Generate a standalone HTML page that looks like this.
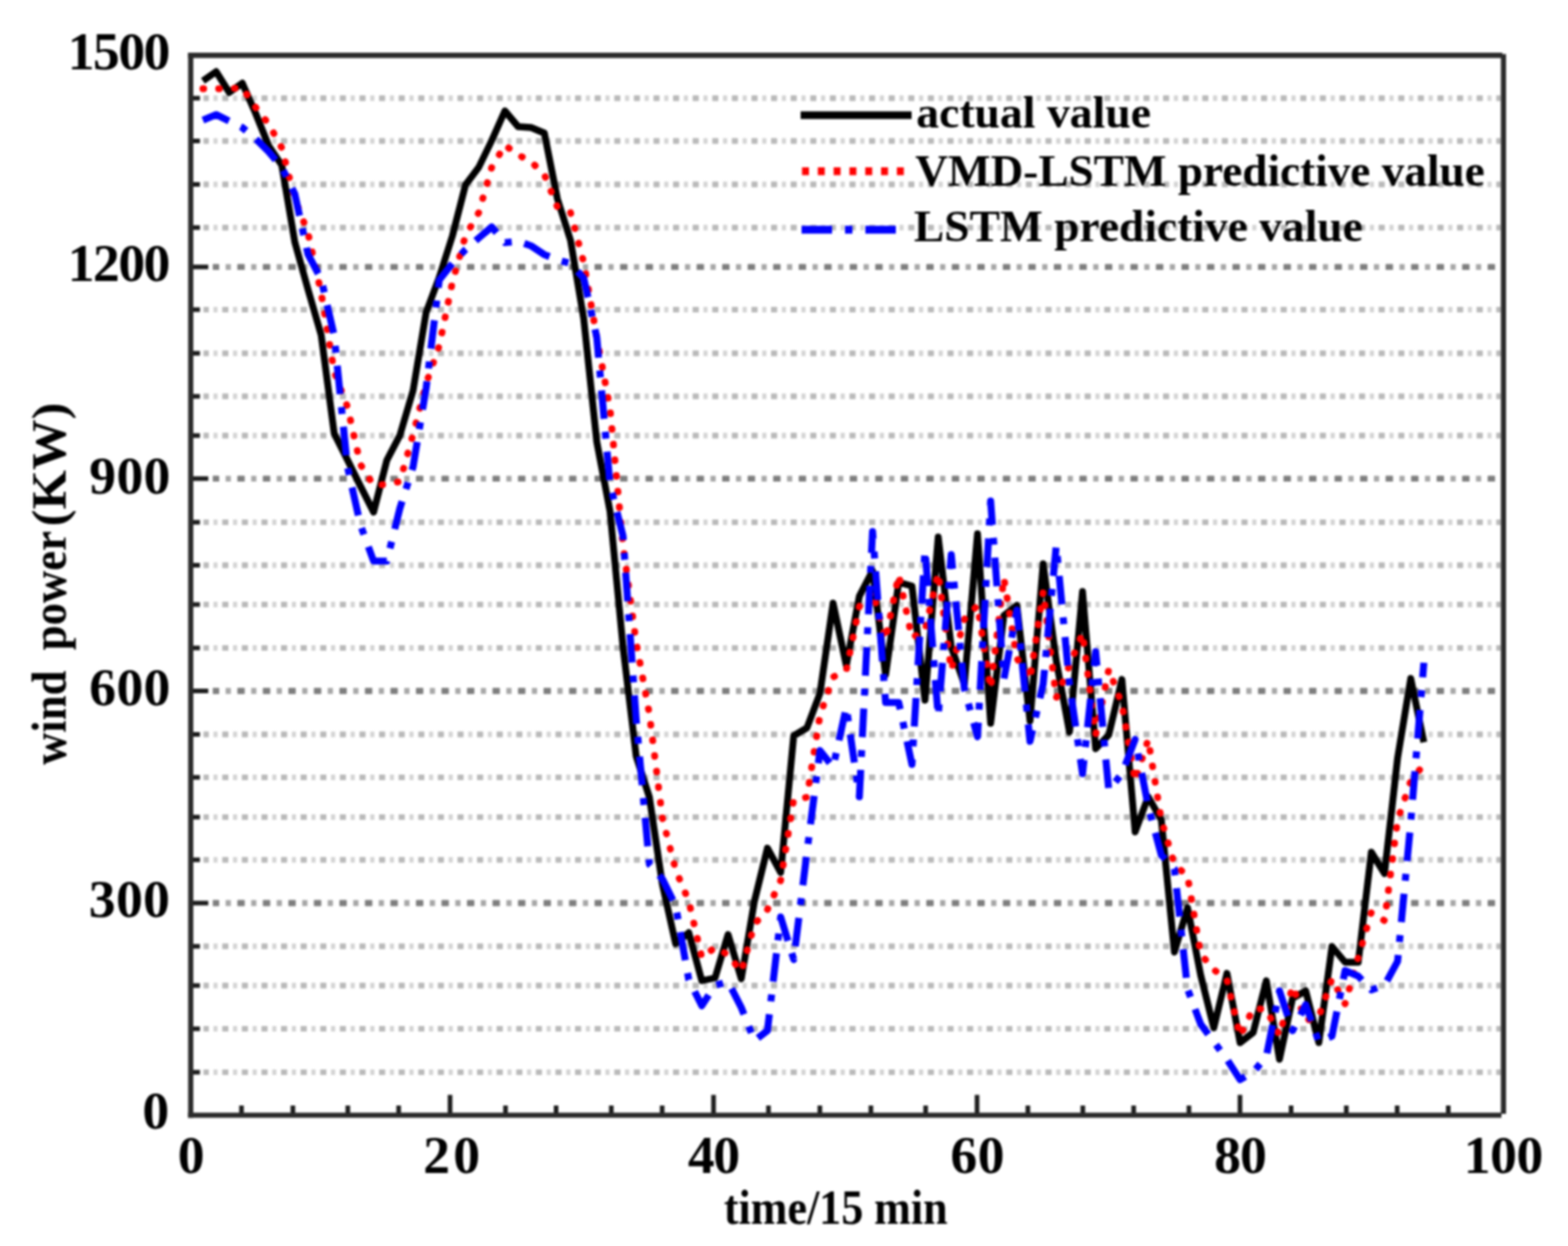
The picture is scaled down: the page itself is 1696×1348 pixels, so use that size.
<!DOCTYPE html>
<html lang="en"><head><meta charset="utf-8"><title>wind power prediction</title>
<style>
html,body{margin:0;padding:0;background:#fff;}
body{width:1696px;height:1348px;overflow:hidden;}
svg{display:block;filter:blur(1.2px);}
text{font-family:"Liberation Serif","DejaVu Serif",serif;font-weight:bold;fill:#000;}
</style></head><body>
<svg width="1696" height="1348" viewBox="0 0 1696 1348">
<rect x="0" y="0" width="1696" height="1348" fill="#ffffff"/>
<g fill="none" stroke-width="6">
<g stroke="#d3d3d3" stroke-dasharray="4.4 6.2">
<line x1="220.3" y1="1160.0" x2="1623.0" y2="1160.0"/>
<line x1="220.3" y1="1113.0" x2="1623.0" y2="1113.0"/>
<line x1="220.3" y1="1066.2" x2="1623.0" y2="1066.2"/>
<line x1="220.3" y1="1023.8" x2="1623.0" y2="1023.8"/>
<line x1="220.3" y1="930.2" x2="1623.0" y2="930.2"/>
<line x1="220.3" y1="884.0" x2="1623.0" y2="884.0"/>
<line x1="220.3" y1="841.0" x2="1623.0" y2="841.0"/>
<line x1="220.3" y1="794.5" x2="1623.0" y2="794.5"/>
<line x1="220.3" y1="701.0" x2="1623.0" y2="701.0"/>
<line x1="220.3" y1="654.0" x2="1623.0" y2="654.0"/>
<line x1="220.3" y1="611.5" x2="1623.0" y2="611.5"/>
<line x1="220.3" y1="565.0" x2="1623.0" y2="565.0"/>
<line x1="220.3" y1="471.2" x2="1623.0" y2="471.2"/>
<line x1="220.3" y1="428.8" x2="1623.0" y2="428.8"/>
<line x1="220.3" y1="382.2" x2="1623.0" y2="382.2"/>
<line x1="220.3" y1="335.0" x2="1623.0" y2="335.0"/>
<line x1="220.3" y1="246.2" x2="1623.0" y2="246.2"/>
<line x1="220.3" y1="199.5" x2="1623.0" y2="199.5"/>
<line x1="220.3" y1="152.5" x2="1623.0" y2="152.5"/>
<line x1="220.3" y1="106.2" x2="1623.0" y2="106.2"/>
</g>
<g stroke="#b9b9b9" stroke-dasharray="6.6 14.6" stroke-dashoffset="1.1">
<line x1="220.3" y1="1160.0" x2="1623.0" y2="1160.0"/>
<line x1="220.3" y1="1113.0" x2="1623.0" y2="1113.0"/>
<line x1="220.3" y1="1066.2" x2="1623.0" y2="1066.2"/>
<line x1="220.3" y1="1023.8" x2="1623.0" y2="1023.8"/>
<line x1="220.3" y1="930.2" x2="1623.0" y2="930.2"/>
<line x1="220.3" y1="884.0" x2="1623.0" y2="884.0"/>
<line x1="220.3" y1="841.0" x2="1623.0" y2="841.0"/>
<line x1="220.3" y1="794.5" x2="1623.0" y2="794.5"/>
<line x1="220.3" y1="701.0" x2="1623.0" y2="701.0"/>
<line x1="220.3" y1="654.0" x2="1623.0" y2="654.0"/>
<line x1="220.3" y1="611.5" x2="1623.0" y2="611.5"/>
<line x1="220.3" y1="565.0" x2="1623.0" y2="565.0"/>
<line x1="220.3" y1="471.2" x2="1623.0" y2="471.2"/>
<line x1="220.3" y1="428.8" x2="1623.0" y2="428.8"/>
<line x1="220.3" y1="382.2" x2="1623.0" y2="382.2"/>
<line x1="220.3" y1="335.0" x2="1623.0" y2="335.0"/>
<line x1="220.3" y1="246.2" x2="1623.0" y2="246.2"/>
<line x1="220.3" y1="199.5" x2="1623.0" y2="199.5"/>
<line x1="220.3" y1="152.5" x2="1623.0" y2="152.5"/>
<line x1="220.3" y1="106.2" x2="1623.0" y2="106.2"/>
</g>
</g>
<g fill="none" stroke-width="6.3">
<g stroke="#a6a6a6" stroke-dasharray="5.6 8.2">
<line x1="230.3" y1="977.0" x2="1623.0" y2="977.0"/>
<line x1="230.3" y1="747.5" x2="1623.0" y2="747.5"/>
<line x1="230.3" y1="517.8" x2="1623.0" y2="517.8"/>
<line x1="230.3" y1="288.8" x2="1623.0" y2="288.8"/>
</g>
<g stroke="#7e7e7e" stroke-dasharray="8 19.6" stroke-dashoffset="1.2">
<line x1="230.3" y1="977.0" x2="1623.0" y2="977.0"/>
<line x1="230.3" y1="747.5" x2="1623.0" y2="747.5"/>
<line x1="230.3" y1="517.8" x2="1623.0" y2="517.8"/>
<line x1="230.3" y1="288.8" x2="1623.0" y2="288.8"/>
</g>
</g>
<g fill="none" stroke="#1c1c1c" stroke-width="5">
<line x1="206.3" y1="1160.0" x2="216.3" y2="1160.0"/>
<line x1="206.3" y1="1113.0" x2="216.3" y2="1113.0"/>
<line x1="206.3" y1="1066.2" x2="216.3" y2="1066.2"/>
<line x1="206.3" y1="1023.8" x2="216.3" y2="1023.8"/>
<line x1="206.3" y1="930.2" x2="216.3" y2="930.2"/>
<line x1="206.3" y1="884.0" x2="216.3" y2="884.0"/>
<line x1="206.3" y1="841.0" x2="216.3" y2="841.0"/>
<line x1="206.3" y1="794.5" x2="216.3" y2="794.5"/>
<line x1="206.3" y1="701.0" x2="216.3" y2="701.0"/>
<line x1="206.3" y1="654.0" x2="216.3" y2="654.0"/>
<line x1="206.3" y1="611.5" x2="216.3" y2="611.5"/>
<line x1="206.3" y1="565.0" x2="216.3" y2="565.0"/>
<line x1="206.3" y1="471.2" x2="216.3" y2="471.2"/>
<line x1="206.3" y1="428.8" x2="216.3" y2="428.8"/>
<line x1="206.3" y1="382.2" x2="216.3" y2="382.2"/>
<line x1="206.3" y1="335.0" x2="216.3" y2="335.0"/>
<line x1="206.3" y1="246.2" x2="216.3" y2="246.2"/>
<line x1="206.3" y1="199.5" x2="216.3" y2="199.5"/>
<line x1="206.3" y1="152.5" x2="216.3" y2="152.5"/>
<line x1="206.3" y1="106.2" x2="216.3" y2="106.2"/>
<line x1="206.3" y1="977.0" x2="225.3" y2="977.0"/>
<line x1="206.3" y1="747.5" x2="225.3" y2="747.5"/>
<line x1="206.3" y1="517.8" x2="225.3" y2="517.8"/>
<line x1="206.3" y1="288.8" x2="225.3" y2="288.8"/>
<line x1="261.2" y1="1206.5" x2="261.2" y2="1196.0"/>
<line x1="316.8" y1="1206.5" x2="316.8" y2="1196.0"/>
<line x1="376.2" y1="1206.5" x2="376.2" y2="1196.0"/>
<line x1="431.2" y1="1206.5" x2="431.2" y2="1196.0"/>
<line x1="486.8" y1="1206.5" x2="486.8" y2="1184.5"/>
<line x1="546.8" y1="1206.5" x2="546.8" y2="1196.0"/>
<line x1="601.5" y1="1206.5" x2="601.5" y2="1196.0"/>
<line x1="661.2" y1="1206.5" x2="661.2" y2="1196.0"/>
<line x1="716.2" y1="1206.5" x2="716.2" y2="1196.0"/>
<line x1="771.8" y1="1206.5" x2="771.8" y2="1184.5"/>
<line x1="831.2" y1="1206.5" x2="831.2" y2="1196.0"/>
<line x1="886.8" y1="1206.5" x2="886.8" y2="1196.0"/>
<line x1="942.0" y1="1206.5" x2="942.0" y2="1196.0"/>
<line x1="1001.2" y1="1206.5" x2="1001.2" y2="1196.0"/>
<line x1="1056.8" y1="1206.5" x2="1056.8" y2="1184.5"/>
<line x1="1111.8" y1="1206.5" x2="1111.8" y2="1196.0"/>
<line x1="1171.2" y1="1206.5" x2="1171.2" y2="1196.0"/>
<line x1="1226.2" y1="1206.5" x2="1226.2" y2="1196.0"/>
<line x1="1286.0" y1="1206.5" x2="1286.0" y2="1196.0"/>
<line x1="1341.2" y1="1206.5" x2="1341.2" y2="1184.5"/>
<line x1="1396.5" y1="1206.5" x2="1396.5" y2="1196.0"/>
<line x1="1456.2" y1="1206.5" x2="1456.2" y2="1196.0"/>
<line x1="1511.2" y1="1206.5" x2="1511.2" y2="1196.0"/>
<line x1="1566.5" y1="1206.5" x2="1566.5" y2="1196.0"/>
</g>
<g fill="none" stroke="#2a2a2a" stroke-width="5.6" stroke-linecap="butt">
<line x1="206.3" y1="57.2" x2="206.3" y2="1209.3"/>
<line x1="203.5" y1="59.9" x2="1625" y2="59.9"/>
<line x1="1626.2" y1="58.5" x2="1626.2" y2="1205"/>
<line x1="203.5" y1="1206.5" x2="1624" y2="1206.5"/>
</g>
<g fill="none" stroke-linejoin="round">
<polyline stroke="#000000" stroke-width="7.4" points="219.5,87.5 233.8,77.5 247.9,100.0 262.1,90.0 276.4,122.5 290.5,157.5 304.8,178.8 318.9,262.0 333.1,313.0 347.4,362.5 361.5,469.0 375.8,497.5 389.9,526.0 404.1,554.0 418.4,498.0 432.5,471.0 446.8,422.5 460.9,338.0 475.1,300.0 489.4,255.0 503.5,200.0 517.8,181.0 531.9,152.0 546.1,120.0 560.4,137.0 574.5,138.0 588.8,144.0 602.9,215.0 617.1,260.0 631.4,345.0 645.5,478.0 659.8,553.0 673.9,700.0 688.1,818.0 702.4,862.5 716.5,957.0 730.8,1021.0 745.0,1009.0 759.1,1061.0 773.4,1058.0 787.5,1011.0 801.8,1059.0 816.0,975.0 830.1,917.5 844.4,944.0 858.5,796.0 872.8,787.5 886.9,750.0 901.1,652.5 915.4,720.0 929.5,645.0 943.8,617.5 957.9,730.0 972.1,630.0 986.4,634.0 1000.5,757.5 1014.8,581.0 1028.9,700.0 1043.1,740.0 1057.3,577.5 1071.5,782.5 1085.8,666.0 1099.9,655.0 1114.1,780.0 1128.3,610.0 1142.5,715.0 1156.8,792.0 1170.9,640.0 1185.1,810.0 1199.3,795.0 1213.5,735.0 1227.8,900.0 1241.9,862.0 1256.1,887.0 1270.3,1030.0 1284.5,982.0 1298.7,1055.0 1312.9,1112.0 1327.1,1053.0 1341.3,1128.0 1355.5,1117.0 1369.7,1061.0 1383.9,1146.0 1398.1,1080.0 1412.3,1072.0 1426.5,1128.0 1440.7,1024.0 1454.9,1041.0 1469.1,1041.0 1483.3,922.0 1497.5,945.0 1511.7,820.0 1525.9,734.0 1540.1,803.0"/>
<polyline stroke="#ff0000" stroke-width="7.4" stroke-linecap="round" stroke-dasharray="0.8 16.2" points="219.5,96.0 233.8,96.0 247.9,96.0 262.1,95.0 276.4,116.0 290.5,134.0 304.8,160.0 318.9,215.0 333.1,252.0 347.4,317.0 361.5,402.5 375.8,440.0 389.9,502.5 404.1,525.0 418.4,524.0 432.5,521.0 446.8,470.0 460.9,415.0 475.1,374.0 489.4,305.0 503.5,255.0 517.8,230.0 531.9,181.0 546.1,157.0 560.4,167.5 574.5,175.0 588.8,189.0 602.9,224.0 617.1,230.0 631.4,284.0 645.5,365.0 659.8,442.0 673.9,590.0 688.1,695.0 702.4,772.5 716.5,885.0 730.8,941.0 745.0,975.0 759.1,1036.0 773.4,1025.0 787.5,1033.0 801.8,1051.0 816.0,1000.0 830.1,984.0 844.4,952.5 858.5,865.0 872.8,862.5 886.9,774.0 901.1,732.5 915.4,725.0 929.5,656.0 943.8,640.0 957.9,692.0 972.1,622.0 986.4,690.0 1000.5,682.0 1014.8,620.0 1028.9,725.0 1043.1,670.0 1057.3,655.0 1071.5,745.0 1085.8,625.0 1099.9,712.0 1114.1,735.0 1128.3,640.0 1142.5,755.0 1156.8,720.0 1170.9,685.0 1185.1,795.0 1199.3,724.0 1213.5,762.0 1227.8,845.0 1241.9,800.0 1256.1,887.0 1270.3,935.0 1284.5,948.0 1298.7,1032.0 1312.9,1049.0 1327.1,1060.0 1341.3,1121.0 1355.5,1091.0 1369.7,1092.0 1383.9,1120.0 1398.1,1067.0 1412.3,1104.0 1426.5,1100.0 1440.7,1059.0 1454.9,1086.0 1469.1,1036.0 1483.3,987.0 1497.5,996.0 1511.7,887.0 1525.9,845.0 1540.1,827.0"/>
<polyline stroke="#0000ff" stroke-width="7.6" stroke-dasharray="31 14 7.5 14" points="219.5,130.0 233.8,124.0 247.9,131.0 262.1,138.0 276.4,150.0 290.5,164.0 304.8,181.0 318.9,210.0 333.1,275.0 347.4,302.0 361.5,363.0 375.8,505.0 389.9,568.0 404.1,607.0 418.4,607.0 432.5,550.0 446.8,505.0 460.9,420.0 475.1,303.0 489.4,285.0 503.5,270.0 517.8,257.5 531.9,245.5 546.1,262.5 560.4,261.0 574.5,266.0 588.8,275.5 602.9,281.0 617.1,285.0 631.4,301.0 645.5,365.0 659.8,524.0 673.9,580.0 688.1,778.0 702.4,935.0 716.5,951.0 730.8,980.0 745.0,1060.0 759.1,1088.0 773.4,1066.0 787.5,1062.0 801.8,1090.0 816.0,1126.0 830.1,1115.0 844.4,992.0 858.5,1038.0 872.8,922.0 886.9,812.0 901.1,830.0 915.4,765.0 929.5,862.0 943.8,575.0 957.9,760.0 972.1,760.0 986.4,827.0 1000.5,595.0 1014.8,775.0 1028.9,600.0 1043.1,745.0 1057.3,797.0 1071.5,542.0 1085.8,735.0 1099.9,660.0 1114.1,802.0 1128.3,740.0 1142.5,590.0 1156.8,740.0 1170.9,837.0 1185.1,705.0 1199.3,855.0 1213.5,837.0 1227.8,800.0 1241.9,872.0 1256.1,925.0 1270.3,940.0 1284.5,1070.0 1298.7,1108.0 1312.9,1127.0 1327.1,1146.0 1341.3,1168.0 1355.5,1160.0 1369.7,1143.0 1383.9,1072.0 1398.1,1115.0 1412.3,1087.0 1426.5,1127.0 1440.7,1121.0 1454.9,1050.0 1469.1,1056.0 1483.3,1071.0 1497.5,1066.0 1511.7,1040.0 1525.9,890.0 1540.1,717.0"/>
</g>
<g fill="none">
<line x1="866" y1="124.6" x2="986" y2="124.6" stroke="#000" stroke-width="8.4"/>
<line x1="867.5" y1="185.3" x2="982" y2="185.3" stroke="#ff0000" stroke-width="8.5" stroke-dasharray="7.5 9.6"/>
<line x1="867" y1="248.5" x2="969" y2="248.5" stroke="#0000ff" stroke-width="8.5" stroke-dasharray="33 14 8 14"/>
</g>
<g font-size="49px">
<text x="991" y="137.5" textLength="254" lengthAdjust="spacingAndGlyphs">actual value</text>
<text x="990" y="201" textLength="616" lengthAdjust="spacingAndGlyphs">VMD-LSTM predictive value</text>
<text x="988.5" y="260.5" textLength="485.5" lengthAdjust="spacingAndGlyphs">LSTM predictive value</text>
</g>
<g font-size="58px" text-anchor="end">
<text x="182.5" y="74.5" letter-spacing="-1.7">1500</text>
<text x="182.5" y="304.0" letter-spacing="-1.7">1200</text>
<text x="184.5" y="533.5" letter-spacing="0.3">900</text>
<text x="184.5" y="762.5" letter-spacing="0.3">600</text>
<text x="184.0" y="991.5" letter-spacing="0.3">300</text>
<text x="183.0" y="1220.5" letter-spacing="0.0">0</text>
</g>
<g font-size="58px" text-anchor="middle">
<text x="206.8" y="1268.5" letter-spacing="0.0">0</text>
<text x="490.2" y="1268.5" letter-spacing="3.5">20</text>
<text x="771.5" y="1268.5" letter-spacing="-1.5">40</text>
<text x="1057.5" y="1268.5" letter-spacing="0.5">60</text>
<text x="1341.2" y="1268.5" letter-spacing="-1.0">80</text>
<text x="1626.0" y="1268.5" letter-spacing="-0.5">100</text>
</g>
<text x="783" y="1323.5" font-size="52px" textLength="242" lengthAdjust="spacingAndGlyphs">time/15 min</text>
<text transform="translate(71,827.5) rotate(-90)" font-size="52px"><tspan x="0" textLength="102" lengthAdjust="spacingAndGlyphs">wind</tspan><tspan x="102" textLength="22" lengthAdjust="spacingAndGlyphs"> </tspan><tspan x="124" textLength="129" lengthAdjust="spacingAndGlyphs">power</tspan><tspan x="258" textLength="134" lengthAdjust="spacingAndGlyphs">(KW)</tspan></text>
</svg>
</body></html>
